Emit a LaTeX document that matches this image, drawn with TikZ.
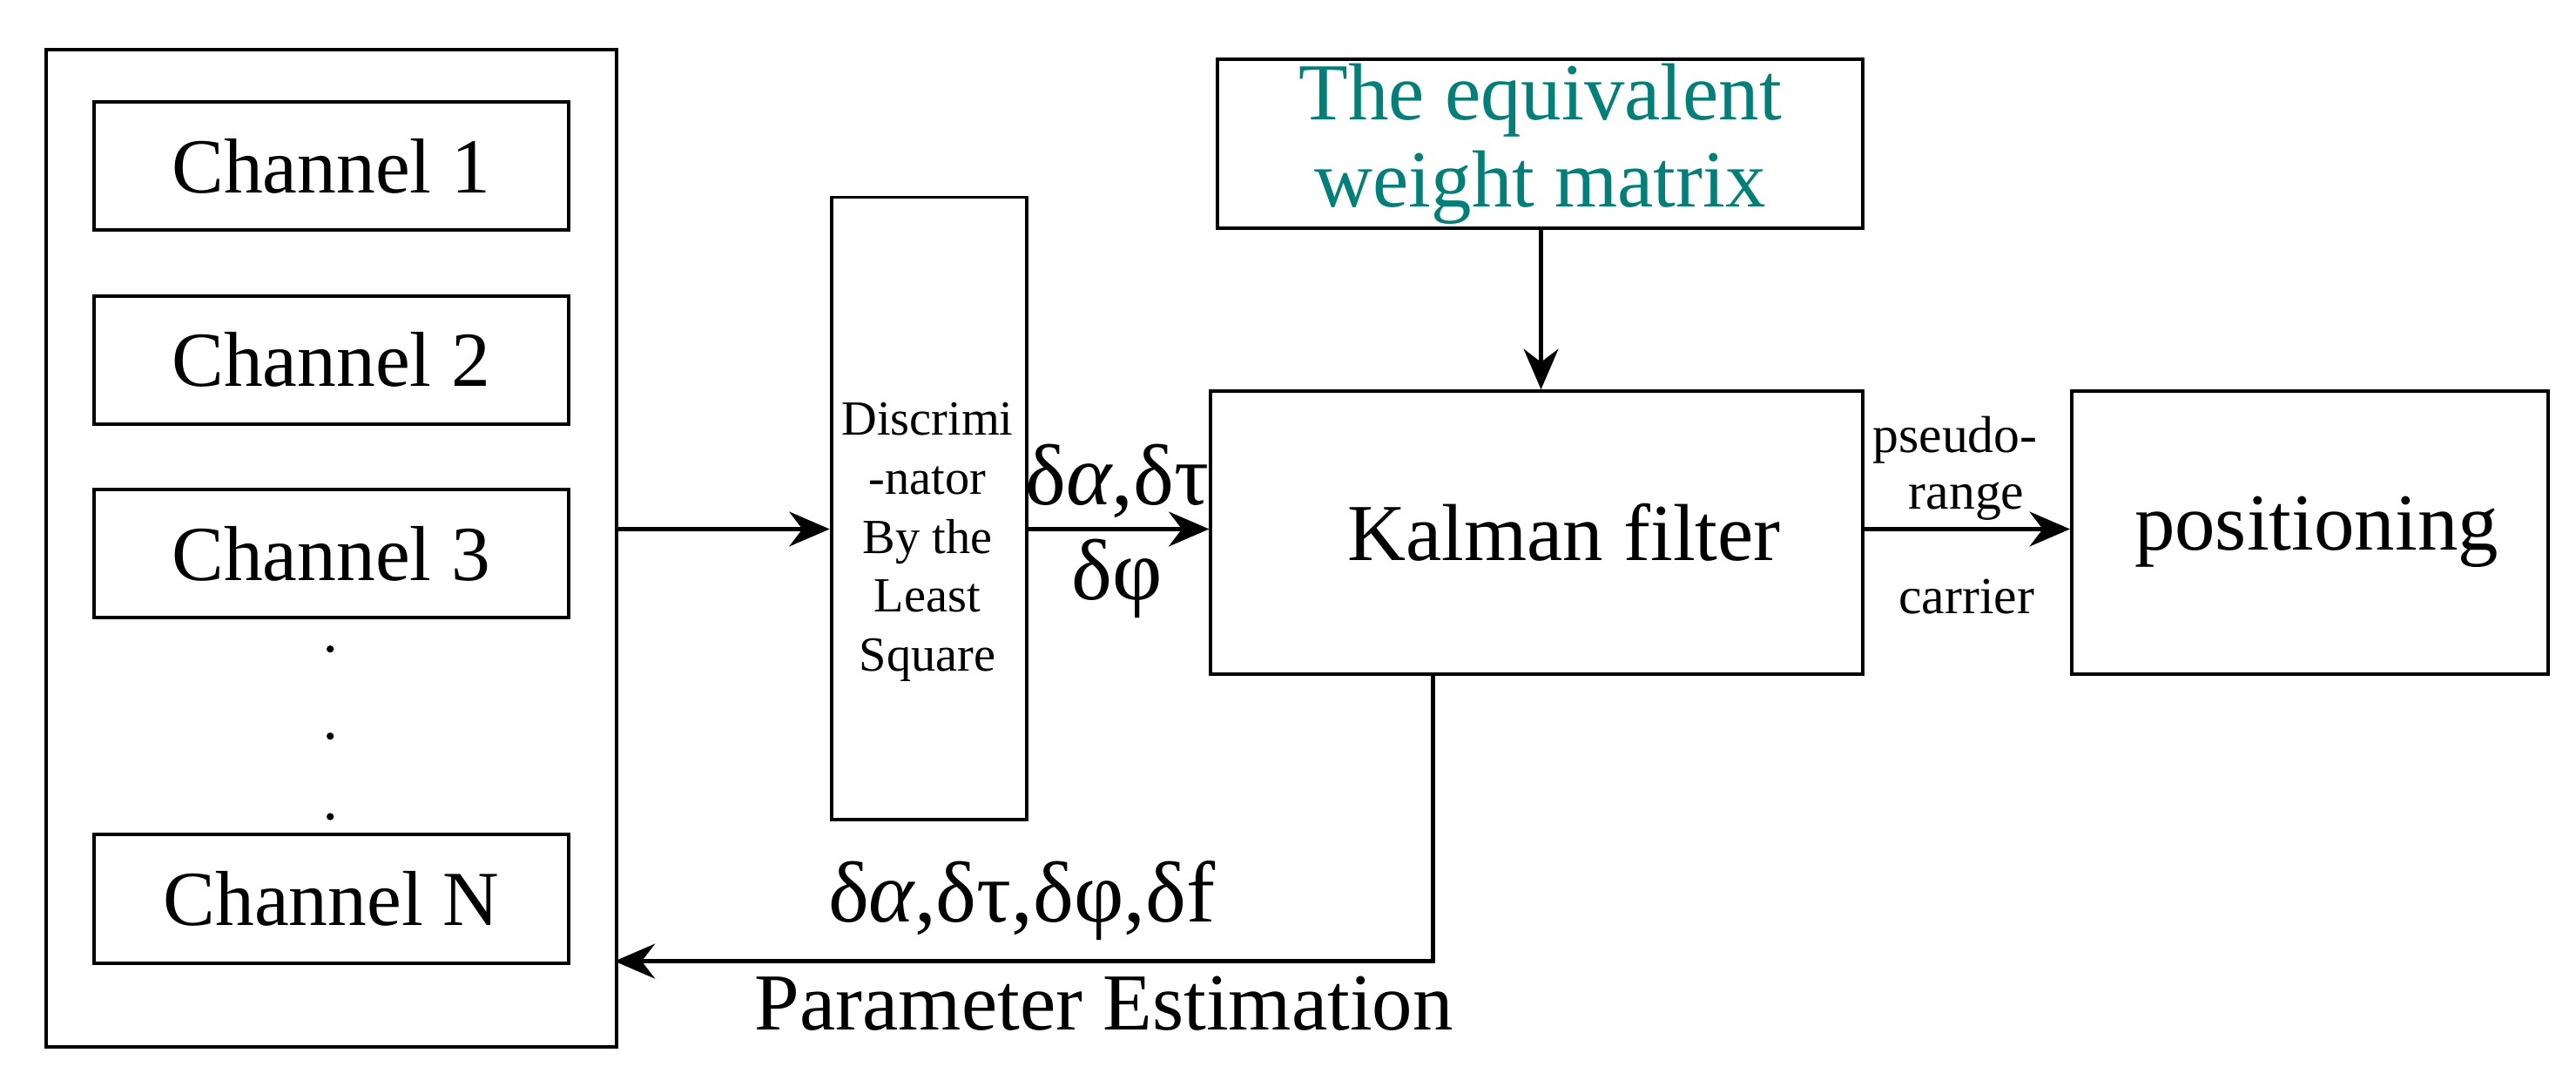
\documentclass[tikz,border=0pt]{standalone}
\usepackage{fontspec}
\setmainfont{Liberation Serif}
\usetikzlibrary{arrows.meta}
\definecolor{teal1}{RGB}{0,128,120}
\begin{document}
\begin{tikzpicture}[x=0.02cm,y=-0.02cm,
  box/.style={draw,line width=1.2pt,inner sep=0,anchor=north west},
  big/.style={font=\fontsize{28}{34}\selectfont},
  arr/.style={draw,line width=1.5pt,-{Stealth[length=14pt,width=12pt]}}]
\useasboundingbox (0,0) rectangle (1568,657);
\node[box,minimum width=347*0.02cm,minimum height=607*0.02cm] (outer) at (27,29) {};
\foreach \n/\y/\t in {c1/61/Channel 1,c2/179/Channel 2,c3/297/Channel 3,cn/507/Channel N}
  \node[box,font=\fontsize{27}{32}\selectfont,minimum width=289*0.02cm,minimum height=78*0.02cm] (\n) at (56,\y) {\t};
\foreach \y in {395,448,497} \fill (201,\y) circle (2.2);
\node[box,minimum width=119*0.02cm,minimum height=379*0.02cm] (disc) at (505,119) {};
\node[font=\fontsize{17}{20.4}\selectfont,align=center] (dt) at (564.5,330) {Discrimi\\-nator\\By the\\Least\\Square};
\node[box,minimum width=393*0.02cm,minimum height=103*0.02cm] (w) at (740,35) {};
\node[font=\fontsize{28}{30}\selectfont,text=teal1,align=center] (wt) at (w.center) {The equivalent\\weight matrix};
\node[box,minimum width=397*0.02cm,minimum height=172*0.02cm] (k) at (736,237) {};
\node[big] (kt) at (952,324) {Kalman filter};
\node[box,minimum width=290*0.02cm,minimum height=172*0.02cm] (p) at (1260,237) {};
\node[big] (pt) at (1410,324) {positioning};
\coordinate (oin) at (374,322);
\coordinate (din) at (505,322);
\coordinate (dout) at (624,322);
\coordinate (kin) at (736,322);
\coordinate (kout) at (1133,322);
\coordinate (pin) at (1260,322);
\coordinate (wb) at (938,138);
\coordinate (kt2) at (938,237);
\coordinate (kb) at (872,409);
\coordinate (fc) at (872,585);
\coordinate (ofb) at (374,585);
\draw[arr] (oin) -- (din);
\draw[arr] (dout) -- (kin);
\draw[arr] (kout) -- (pin);
\draw[arr] (wb) -- (kt2);
\draw[arr] (kb) -- (fc) -- (ofb);
\node[font=\fontsize{30}{34}\selectfont] (l1) at (680,293) {δ\textit{α},δτ};
\node[font=\fontsize{30}{34}\selectfont] (l2) at (680,352) {δφ};
\node[font=\fontsize{18}{20}\selectfont] (l3) at (1190,268) {pseudo-};
\node[font=\fontsize{18}{20}\selectfont] (l4) at (1197,305) {range};
\node[font=\fontsize{18}{20}\selectfont] (l5) at (1197,363) {carrier};
\node[font=\fontsize{30}{34}\selectfont] (l6) at (622,548) {δ\textit{α},δτ,δφ,δf};
\node[big] (l7) at (672,611) {Parameter Estimation};
\end{tikzpicture}
\end{document}
